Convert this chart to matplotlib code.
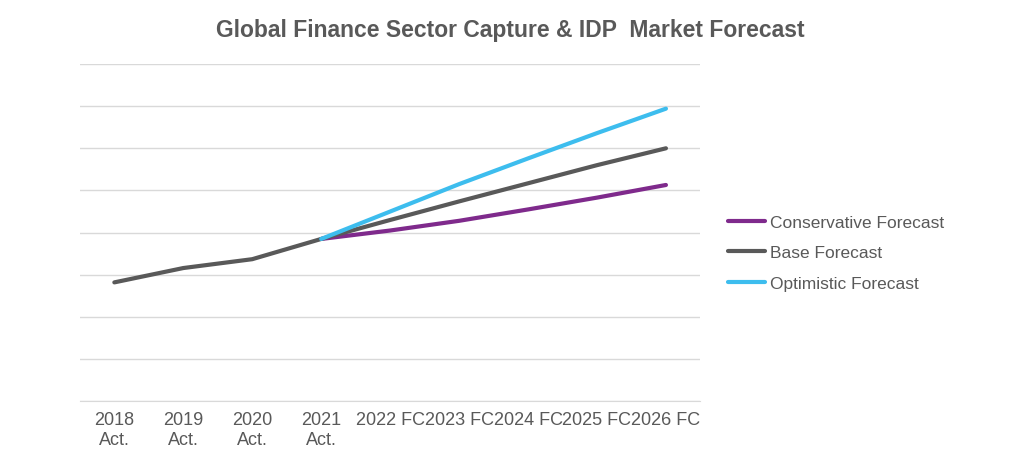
import matplotlib.pyplot as plt

plt.rcParams['font.family'] = ['Liberation Sans', 'DejaVu Sans']

years = ['2018\nAct.', '2019\nAct.', '2020\nAct.', '2021\nAct.',
         '2022 FC', '2023 FC', '2024 FC', '2025 FC', '2026 FC']
actual = [2.82, 3.16, 3.37, 3.85]
conservative = [3.85, 4.05, 4.28, 4.55, 4.83, 5.13]
base = [3.85, 4.3, 4.74, 5.17, 5.6, 6.0]
optimistic = [3.85, 4.5, 5.15, 5.76, 6.36, 6.94]

txt_col = '#595959'
c_cons = '#7F2A8C'
c_base = '#595959'
c_opt = '#3DBDEE'

fig = plt.figure(figsize=(10.24, 4.64), dpi=100)
ax = fig.add_axes([0.078, 0.133, 0.606, 0.727])

x_act = list(range(len(actual)))
x_fc = list(range(3, len(years)))

ax.plot(x_fc, conservative, color=c_cons, lw=3, solid_capstyle='round', label='Conservative Forecast', zorder=3)
ax.plot(x_act + x_fc[1:], actual + base[1:], color=c_base, lw=3, solid_capstyle='round', label='Base Forecast', zorder=4)
ax.plot(x_fc, optimistic, color=c_opt, lw=3, solid_capstyle='round', label='Optimistic Forecast', zorder=5)

ax.set_xlim(-0.5, len(years) - 0.5)
ax.set_ylim(0, 8)
ax.set_yticks(range(0, 9))
ax.set_yticklabels([])
ax.set_xticks(range(len(years)))
ax.set_xticklabels(years, fontsize=13, color=txt_col, linespacing=1.25)
ax.tick_params(axis='both', length=0)
ax.tick_params(axis='x', pad=7)
ax.grid(axis='y', color='#D9D9D9', lw=1)
ax.set_axisbelow(True)
for s in ['top', 'left', 'right']:
    ax.spines[s].set_visible(False)
ax.spines['bottom'].set_color('#D9D9D9')

fig.text(0.498, 0.935, 'Global Finance Sector Capture & IDP  Market Forecast',
         ha='center', va='center', fontsize=16.5, fontweight='bold', color=txt_col)

leg = ax.legend(loc='center left', bbox_to_anchor=(1.02, 0.44), frameon=False,
                fontsize=12.5, handlelength=2.1, handletextpad=0.3, labelspacing=0.88,
                labelcolor=txt_col)

fig.savefig('out.png', dpi=100)
